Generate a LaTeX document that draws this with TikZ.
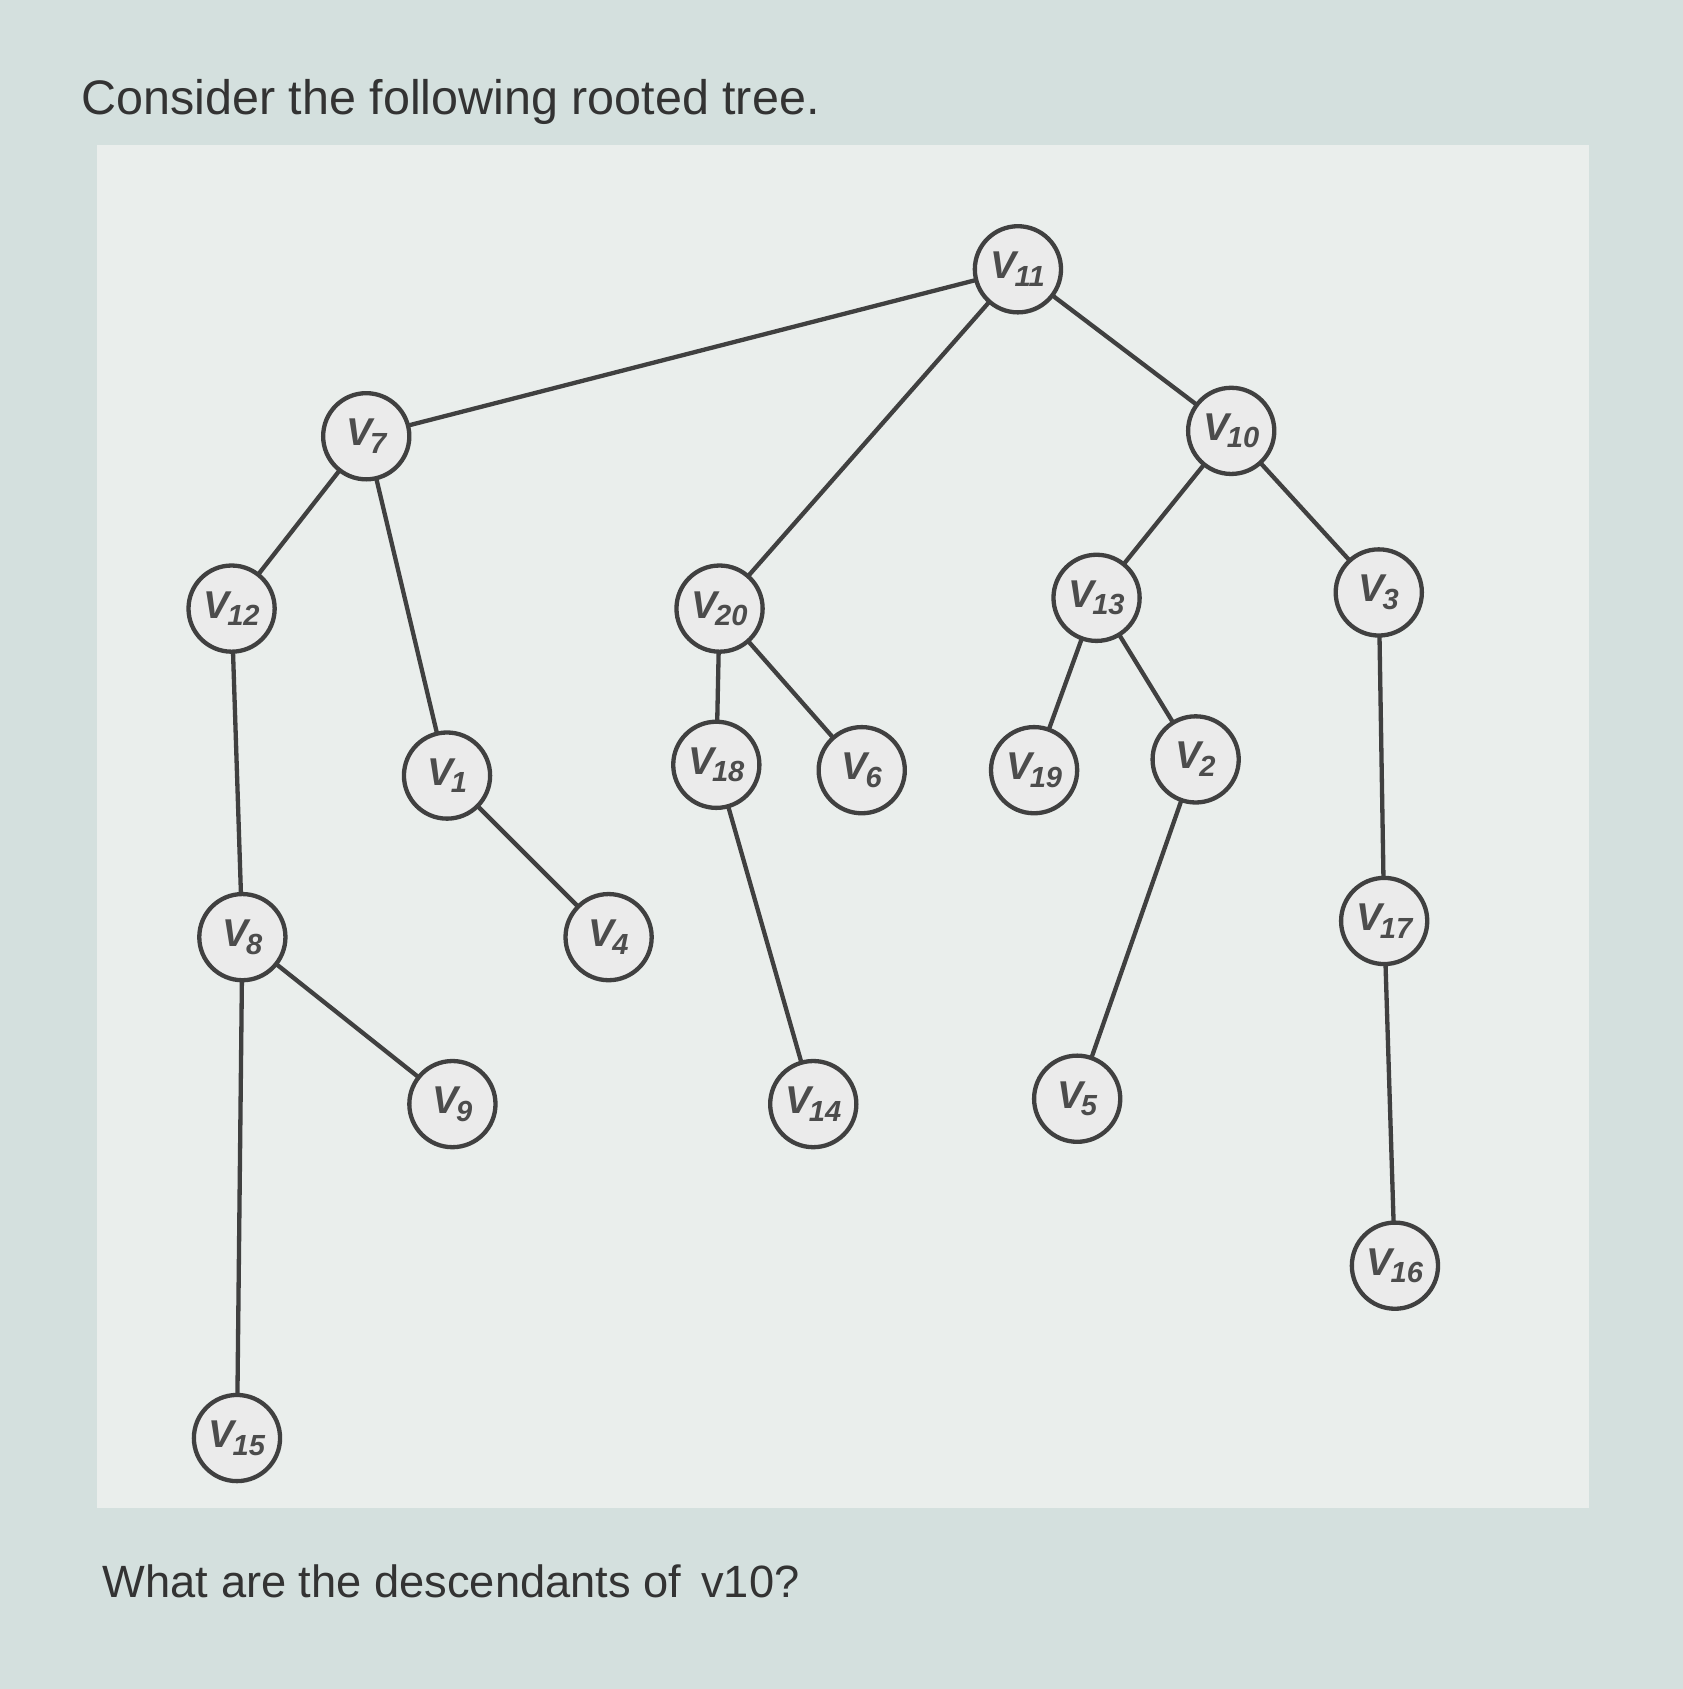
\documentclass[tikz,border=0pt]{standalone}
\usepackage{fontspec}
\setmainfont{Liberation Sans}
\definecolor{outerbg}{RGB}{212,224,222}
\definecolor{innerbg}{RGB}{234,238,236}
\begin{document}
\begin{tikzpicture}[x=1pt,y=-1pt,
  vtx/.style={circle,draw=black!75,line width=4pt,fill=black!8,minimum size=80pt,inner sep=0pt,font=\fontsize{36}{38}\selectfont\bfseries\itshape,text=black!70},
  edge/.style={draw=black!75,line width=4pt}]
\fill[outerbg] (0,0) rectangle (1562,1568);
\useasboundingbox (0,0) rectangle (1562,1568);
\fill[innerbg] (90,135) rectangle (1475,1400);
\node[anchor=west,font=\fontsize{45}{50}\selectfont,text=black!80] (t1) at (72,95) {Consider the following rooted tree.};
\node[anchor=west,font=\fontsize{42}{46}\selectfont,text=black!80] (t2) at (92,1468) {What are the descendants of\, v10?};
\foreach \n/\x/\y in {v11/945/250, v7/340/405, v10/1143/400, v12/215/565, v20/668/565, v13/1018/555, v3/1280/550, v1/415/720, v18/665/710, v6/800/715, v19/960/715, v2/1110/705, v8/225/870, v4/565/870, v17/1285/855, v9/420/1025, v14/755/1025, v5/1000/1020, v16/1295/1175, v15/220/1335}
  \coordinate (\n) at (\x,\y);
\foreach \a/\b in {v11/v7, v11/v20, v11/v10, v7/v12, v7/v1, v12/v8, v8/v15, v8/v9, v1/v4, v20/v18, v20/v6, v18/v14, v10/v13, v10/v3, v13/v19, v13/v2, v2/v5, v3/v17, v17/v16}
  \draw[edge] (\a) -- (\b);
\foreach \n/\s in {v11/11, v7/7, v10/10, v12/12, v20/20, v13/13, v3/3, v1/1, v18/18, v6/6, v19/19, v2/2, v8/8, v4/4, v17/17, v9/9, v14/14, v5/5, v16/16, v15/15}
  \node[vtx] (n\n) at (\n) {V\kern-2pt\raisebox{-7pt}{\fontsize{27}{28}\selectfont\s}};
\end{tikzpicture}
\end{document}
